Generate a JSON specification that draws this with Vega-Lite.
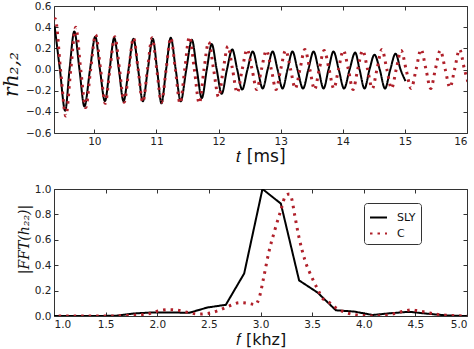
{
  "$schema": "https://vega.github.io/schema/vega-lite/v6.json",
  "background": "white",
  "padding": {"left": 0, "top": 0, "right": 0, "bottom": 0},
  "spacing": 56,
  "bounds": "flush",
  "resolve": {"scale": {"color": "independent", "strokeDash": "independent"}, "legend": {"color": "independent", "strokeDash": "independent"}},
  "datasets": {
    "wave": [
      {"t": 9.36, "v": 0.41, "s": "SLY"}, {"t": 9.445, "v": 0.0, "s": "SLY"}, {"t": 9.53, "v": -0.39, "s": "SLY"}, {"t": 9.6, "v": 0.0, "s": "SLY"},
      {"t": 9.677, "v": 0.36, "s": "SLY"}, {"t": 9.76, "v": 0.0, "s": "SLY"}, {"t": 9.84, "v": -0.35, "s": "SLY"}, {"t": 9.93, "v": 0.0, "s": "SLY"},
      {"t": 10.015, "v": 0.31, "s": "SLY"}, {"t": 10.09, "v": 0.0, "s": "SLY"}, {"t": 10.17, "v": -0.3, "s": "SLY"}, {"t": 10.245, "v": 0.0, "s": "SLY"},
      {"t": 10.32, "v": 0.3, "s": "SLY"}, {"t": 10.395, "v": 0.0, "s": "SLY"}, {"t": 10.47, "v": -0.3, "s": "SLY"}, {"t": 10.55, "v": 0.0, "s": "SLY"},
      {"t": 10.63, "v": 0.29, "s": "SLY"}, {"t": 10.705, "v": 0.0, "s": "SLY"}, {"t": 10.78, "v": -0.3, "s": "SLY"}, {"t": 10.86, "v": 0.0, "s": "SLY"},
      {"t": 10.94, "v": 0.29, "s": "SLY"}, {"t": 11.01, "v": 0.0, "s": "SLY"}, {"t": 11.08, "v": -0.32, "s": "SLY"}, {"t": 11.155, "v": 0.0, "s": "SLY"},
      {"t": 11.23, "v": 0.3, "s": "SLY"}, {"t": 11.31, "v": 0.0, "s": "SLY"}, {"t": 11.39, "v": -0.3, "s": "SLY"}, {"t": 11.48, "v": 0.0, "s": "SLY"},
      {"t": 11.57, "v": 0.28, "s": "SLY"}, {"t": 11.65, "v": 0.0, "s": "SLY"}, {"t": 11.73, "v": -0.27, "s": "SLY"}, {"t": 11.81, "v": 0.0, "s": "SLY"},
      {"t": 11.89, "v": 0.24, "s": "SLY"}, {"t": 11.97, "v": 0.0, "s": "SLY"}, {"t": 12.05, "v": -0.23, "s": "SLY"}, {"t": 12.135, "v": 0.0, "s": "SLY"},
      {"t": 12.22, "v": 0.19, "s": "SLY"}, {"t": 12.3, "v": 0.0, "s": "SLY"}, {"t": 12.38, "v": -0.19, "s": "SLY"}, {"t": 12.465, "v": 0.0, "s": "SLY"},
      {"t": 12.55, "v": 0.17, "s": "SLY"}, {"t": 12.63, "v": 0.0, "s": "SLY"}, {"t": 12.71, "v": -0.18, "s": "SLY"}, {"t": 12.79, "v": 0.0, "s": "SLY"},
      {"t": 12.87, "v": 0.17, "s": "SLY"}, {"t": 12.95, "v": 0.0, "s": "SLY"}, {"t": 13.03, "v": -0.18, "s": "SLY"}, {"t": 13.11, "v": 0.0, "s": "SLY"},
      {"t": 13.19, "v": 0.17, "s": "SLY"}, {"t": 13.27, "v": 0.0, "s": "SLY"}, {"t": 13.36, "v": -0.18, "s": "SLY"}, {"t": 13.445, "v": 0.0, "s": "SLY"},
      {"t": 13.53, "v": 0.17, "s": "SLY"}, {"t": 13.61, "v": 0.0, "s": "SLY"}, {"t": 13.69, "v": -0.18, "s": "SLY"}, {"t": 13.77, "v": 0.0, "s": "SLY"},
      {"t": 13.85, "v": 0.17, "s": "SLY"}, {"t": 13.935, "v": 0.0, "s": "SLY"}, {"t": 14.02, "v": -0.18, "s": "SLY"}, {"t": 14.11, "v": 0.0, "s": "SLY"},
      {"t": 14.2, "v": 0.16, "s": "SLY"}, {"t": 14.27, "v": 0.0, "s": "SLY"}, {"t": 14.35, "v": -0.18, "s": "SLY"}, {"t": 14.43, "v": 0.0, "s": "SLY"},
      {"t": 14.51, "v": 0.14, "s": "SLY"}, {"t": 14.595, "v": 0.0, "s": "SLY"}, {"t": 14.68, "v": -0.18, "s": "SLY"}, {"t": 14.765, "v": 0.0, "s": "SLY"},
      {"t": 14.85, "v": 0.15, "s": "SLY"}, {"t": 14.93, "v": 0.0, "s": "SLY"}, {"t": 15.01, "v": -0.11, "s": "SLY"},
      {"t": 9.35, "v": 0.47, "s": "C"}, {"t": 9.37, "v": 0.48, "s": "C"}, {"t": 9.455, "v": 0.0, "s": "C"}, {"t": 9.54, "v": -0.44, "s": "C"},
      {"t": 9.62, "v": 0.0, "s": "C"}, {"t": 9.7, "v": 0.4, "s": "C"}, {"t": 9.78, "v": 0.0, "s": "C"}, {"t": 9.86, "v": -0.36, "s": "C"},
      {"t": 9.94, "v": 0.0, "s": "C"}, {"t": 10.02, "v": 0.33, "s": "C"}, {"t": 10.1, "v": 0.0, "s": "C"}, {"t": 10.175, "v": -0.32, "s": "C"},
      {"t": 10.25, "v": 0.0, "s": "C"}, {"t": 10.33, "v": 0.31, "s": "C"}, {"t": 10.405, "v": 0.0, "s": "C"}, {"t": 10.48, "v": -0.31, "s": "C"},
      {"t": 10.555, "v": 0.0, "s": "C"}, {"t": 10.63, "v": 0.3, "s": "C"}, {"t": 10.705, "v": 0.0, "s": "C"}, {"t": 10.78, "v": -0.31, "s": "C"},
      {"t": 10.855, "v": 0.0, "s": "C"}, {"t": 10.93, "v": 0.3, "s": "C"}, {"t": 11.005, "v": 0.0, "s": "C"}, {"t": 11.08, "v": -0.31, "s": "C"},
      {"t": 11.155, "v": 0.0, "s": "C"}, {"t": 11.23, "v": 0.3, "s": "C"}, {"t": 11.305, "v": 0.0, "s": "C"}, {"t": 11.38, "v": -0.32, "s": "C"},
      {"t": 11.455, "v": 0.0, "s": "C"}, {"t": 11.53, "v": 0.31, "s": "C"}, {"t": 11.61, "v": 0.0, "s": "C"}, {"t": 11.69, "v": -0.32, "s": "C"},
      {"t": 11.765, "v": 0.0, "s": "C"}, {"t": 11.84, "v": 0.26, "s": "C"}, {"t": 11.92, "v": 0.0, "s": "C"}, {"t": 12.0, "v": -0.26, "s": "C"},
      {"t": 12.075, "v": 0.0, "s": "C"}, {"t": 12.15, "v": 0.22, "s": "C"}, {"t": 12.225, "v": 0.0, "s": "C"}, {"t": 12.3, "v": -0.22, "s": "C"},
      {"t": 12.38, "v": 0.0, "s": "C"}, {"t": 12.46, "v": 0.19, "s": "C"}, {"t": 12.54, "v": 0.0, "s": "C"}, {"t": 12.615, "v": -0.19, "s": "C"},
      {"t": 12.69, "v": 0.0, "s": "C"}, {"t": 12.77, "v": 0.18, "s": "C"}, {"t": 12.85, "v": 0.0, "s": "C"}, {"t": 12.925, "v": -0.19, "s": "C"},
      {"t": 13.0, "v": 0.0, "s": "C"}, {"t": 13.08, "v": 0.18, "s": "C"}, {"t": 13.16, "v": 0.0, "s": "C"}, {"t": 13.235, "v": -0.18, "s": "C"},
      {"t": 13.31, "v": 0.0, "s": "C"}, {"t": 13.39, "v": 0.19, "s": "C"}, {"t": 13.47, "v": 0.0, "s": "C"}, {"t": 13.545, "v": -0.19, "s": "C"},
      {"t": 13.62, "v": 0.0, "s": "C"}, {"t": 13.7, "v": 0.18, "s": "C"}, {"t": 13.78, "v": 0.0, "s": "C"}, {"t": 13.855, "v": -0.18, "s": "C"},
      {"t": 13.93, "v": 0.0, "s": "C"}, {"t": 14.01, "v": 0.18, "s": "C"}, {"t": 14.09, "v": 0.0, "s": "C"}, {"t": 14.165, "v": -0.19, "s": "C"},
      {"t": 14.24, "v": 0.0, "s": "C"}, {"t": 14.32, "v": 0.18, "s": "C"}, {"t": 14.4, "v": 0.0, "s": "C"}, {"t": 14.475, "v": -0.18, "s": "C"},
      {"t": 14.55, "v": 0.0, "s": "C"}, {"t": 14.63, "v": 0.19, "s": "C"}, {"t": 14.71, "v": 0.0, "s": "C"}, {"t": 14.785, "v": -0.18, "s": "C"},
      {"t": 14.86, "v": 0.0, "s": "C"}, {"t": 14.94, "v": 0.18, "s": "C"}, {"t": 15.02, "v": 0.0, "s": "C"}, {"t": 15.1, "v": -0.18, "s": "C"},
      {"t": 15.18, "v": 0.0, "s": "C"}, {"t": 15.26, "v": 0.19, "s": "C"}, {"t": 15.34, "v": 0.0, "s": "C"}, {"t": 15.415, "v": -0.18, "s": "C"},
      {"t": 15.49, "v": 0.0, "s": "C"}, {"t": 15.57, "v": 0.18, "s": "C"}, {"t": 15.65, "v": 0.0, "s": "C"}, {"t": 15.725, "v": -0.17, "s": "C"},
      {"t": 15.8, "v": 0.0, "s": "C"}, {"t": 15.88, "v": 0.19, "s": "C"}, {"t": 15.96, "v": 0.0, "s": "C"}, {"t": 16.04, "v": -0.17, "s": "C"}
    ],
    "fft": [
      {"f": 0.888, "a": 0.0, "s": "SLY"}, {"f": 1.066, "a": 0.0, "s": "SLY"}, {"f": 1.243, "a": 0.0, "s": "SLY"}, {"f": 1.421, "a": 0.0, "s": "SLY"},
      {"f": 1.598, "a": 0.002, "s": "SLY"}, {"f": 1.776, "a": 0.02, "s": "SLY"}, {"f": 1.954, "a": 0.028, "s": "SLY"}, {"f": 2.131, "a": 0.028, "s": "SLY"},
      {"f": 2.309, "a": 0.025, "s": "SLY"}, {"f": 2.486, "a": 0.067, "s": "SLY"}, {"f": 2.664, "a": 0.088, "s": "SLY"}, {"f": 2.842, "a": 0.335, "s": "SLY"},
      {"f": 3.019, "a": 1.0, "s": "SLY"}, {"f": 3.197, "a": 0.885, "s": "SLY"}, {"f": 3.374, "a": 0.28, "s": "SLY"}, {"f": 3.552, "a": 0.185, "s": "SLY"},
      {"f": 3.73, "a": 0.045, "s": "SLY"}, {"f": 3.907, "a": 0.035, "s": "SLY"}, {"f": 4.085, "a": 0.008, "s": "SLY"}, {"f": 4.262, "a": 0.022, "s": "SLY"},
      {"f": 4.44, "a": 0.033, "s": "SLY"}, {"f": 4.618, "a": 0.018, "s": "SLY"}, {"f": 4.795, "a": 0.005, "s": "SLY"}, {"f": 4.973, "a": 0.0, "s": "SLY"},
      {"f": 5.15, "a": 0.0, "s": "SLY"},
      {"f": 0.9, "a": 0.0, "s": "C"}, {"f": 1.5, "a": 0.0, "s": "C"}, {"f": 1.7, "a": 0.003, "s": "C"}, {"f": 1.8, "a": 0.008, "s": "C"},
      {"f": 1.9, "a": 0.015, "s": "C"}, {"f": 2.0, "a": 0.038, "s": "C"}, {"f": 2.1, "a": 0.05, "s": "C"}, {"f": 2.2, "a": 0.045, "s": "C"},
      {"f": 2.3, "a": 0.028, "s": "C"}, {"f": 2.4, "a": 0.015, "s": "C"}, {"f": 2.5, "a": 0.022, "s": "C"}, {"f": 2.6, "a": 0.045, "s": "C"},
      {"f": 2.7, "a": 0.08, "s": "C"}, {"f": 2.8, "a": 0.105, "s": "C"}, {"f": 2.88, "a": 0.1, "s": "C"}, {"f": 2.95, "a": 0.09, "s": "C"},
      {"f": 2.99, "a": 0.15, "s": "C"}, {"f": 3.03, "a": 0.3, "s": "C"}, {"f": 3.08, "a": 0.5, "s": "C"}, {"f": 3.14, "a": 0.68, "s": "C"},
      {"f": 3.2, "a": 0.84, "s": "C"}, {"f": 3.245, "a": 0.95, "s": "C"}, {"f": 3.28, "a": 0.96, "s": "C"}, {"f": 3.3, "a": 0.93, "s": "C"},
      {"f": 3.33, "a": 0.8, "s": "C"}, {"f": 3.37, "a": 0.63, "s": "C"}, {"f": 3.43, "a": 0.44, "s": "C"}, {"f": 3.5, "a": 0.3, "s": "C"},
      {"f": 3.56, "a": 0.2, "s": "C"}, {"f": 3.6, "a": 0.14, "s": "C"}, {"f": 3.66, "a": 0.11, "s": "C"}, {"f": 3.72, "a": 0.07, "s": "C"},
      {"f": 3.8, "a": 0.035, "s": "C"}, {"f": 3.9, "a": 0.012, "s": "C"}, {"f": 4.0, "a": 0.003, "s": "C"}, {"f": 4.1, "a": 0.0, "s": "C"},
      {"f": 4.2, "a": 0.005, "s": "C"}, {"f": 4.3, "a": 0.02, "s": "C"}, {"f": 4.38, "a": 0.037, "s": "C"}, {"f": 4.46, "a": 0.048, "s": "C"},
      {"f": 4.53, "a": 0.04, "s": "C"}, {"f": 4.6, "a": 0.03, "s": "C"}, {"f": 4.7, "a": 0.014, "s": "C"}, {"f": 4.8, "a": 0.006, "s": "C"},
      {"f": 4.9, "a": 0.002, "s": "C"}, {"f": 5.0, "a": 0.0, "s": "C"}
    ]
  },
  "vconcat": [
    {
      "width": 413,
      "height": 127,
      "data": {"name": "wave"},
      "layer": [
        {
          "transform": [{"filter": "datum.s === 'SLY'"}],
          "mark": {"type": "line", "interpolate": "monotone", "clip": true, "strokeWidth": 2},
          "encoding": {
            "x": {"field": "t", "type": "quantitative", "scale": {"domain": [9.35, 16], "nice": false, "zero": false},
                  "axis": {"orient": "bottom", "values": [10, 11, 12, 13, 14, 15, 16], "format": "d", "title": "𝑡 [ms]", "titleFontSize": 17, "titlePadding": 2}},
            "y": {"field": "v", "type": "quantitative", "scale": {"domain": [-0.6, 0.6], "nice": false},
                  "axis": {"orient": "left", "values": [-0.6, -0.4, -0.2, 0, 0.2, 0.4, 0.6], "format": ".1f", "title": "rh₂,₂", "titleFont": "DejaVu Serif", "titleFontStyle": "italic", "titleFontSize": 20, "titleX": -33, "titleY": 68}},
            "color": {"field": "s", "type": "nominal", "scale": {"domain": ["SLY", "C"], "range": ["#000000", "#b0202a"]}, "legend": null},
            "strokeDash": {"field": "s", "type": "nominal", "scale": {"domain": ["SLY", "C"], "range": [[1, 0], [2.5, 5]]}, "legend": null}
          }
        },
        {
          "transform": [{"filter": "datum.s === 'C'"}],
          "mark": {"type": "line", "interpolate": "monotone", "clip": true, "strokeWidth": 3},
          "encoding": {
            "x": {"field": "t", "type": "quantitative", "axis": null},
            "y": {"field": "v", "type": "quantitative", "axis": null},
            "color": {"field": "s", "type": "nominal", "legend": null},
            "strokeDash": {"field": "s", "type": "nominal", "legend": null}
          }
        },
        {
          "mark": {"type": "line", "opacity": 0},
          "encoding": {
            "x": {"field": "t", "type": "quantitative", "axis": {"orient": "top", "values": [10, 11, 12, 13, 14, 15, 16], "labels": false, "title": null}},
            "y": {"field": "v", "type": "quantitative", "axis": {"orient": "right", "values": [-0.6, -0.4, -0.2, 0, 0.2, 0.4, 0.6], "labels": false, "title": null}}
          }
        }
      ],
      "resolve": {"axis": {"x": "independent", "y": "independent"}}
    },
    {
      "width": 413,
      "height": 127,
      "data": {"name": "fft"},
      "layer": [
        {
          "transform": [{"filter": "datum.s === 'SLY'"}],
          "mark": {"type": "line", "clip": true, "strokeWidth": 2},
          "encoding": {
            "x": {"field": "f", "type": "quantitative", "scale": {"domain": [1, 5], "nice": false, "zero": false},
                  "axis": {"orient": "bottom", "values": [1, 1.5, 2, 2.5, 3, 3.5, 4, 4.5, 5], "format": ".1f", "title": "𝑓 [khz]", "titleFontSize": 16, "titlePadding": 2}},
            "y": {"field": "a", "type": "quantitative", "scale": {"domain": [0, 1], "nice": false},
                  "axis": {"orient": "left", "values": [0, 0.2, 0.4, 0.6, 0.8, 1.0], "format": ".1f", "title": "|FFT(h₂₂)|", "titleFont": "DejaVu Serif", "titleFontStyle": "italic", "titleFontSize": 14, "titleX": -23, "titleY": 50}},
            "color": {"field": "s", "type": "nominal", "scale": {"domain": ["SLY", "C"], "range": ["#000000", "#b0202a"]},
                      "legend": {"title": null, "orient": "none", "legendX": 310, "legendY": 14}},
            "strokeDash": {"field": "s", "type": "nominal", "scale": {"domain": ["SLY", "C"], "range": [[1, 0], [2.5, 5]]},
                      "legend": {"title": null, "orient": "none", "legendX": 310, "legendY": 14}}
          }
        },
        {
          "transform": [{"filter": "datum.s === 'C'"}],
          "mark": {"type": "line", "interpolate": "monotone", "clip": true, "strokeWidth": 3},
          "encoding": {
            "x": {"field": "f", "type": "quantitative", "axis": null},
            "y": {"field": "a", "type": "quantitative", "axis": null},
            "color": {"field": "s", "type": "nominal", "legend": {"title": null, "orient": "none", "legendX": 310, "legendY": 14}},
            "strokeDash": {"field": "s", "type": "nominal", "legend": {"title": null, "orient": "none", "legendX": 310, "legendY": 14}}
          }
        },
        {
          "mark": {"type": "line", "opacity": 0},
          "encoding": {
            "x": {"field": "f", "type": "quantitative", "axis": {"orient": "top", "values": [1, 1.5, 2, 2.5, 3, 3.5, 4, 4.5, 5], "labels": false, "title": null}},
            "y": {"field": "a", "type": "quantitative", "axis": {"orient": "right", "values": [0, 0.2, 0.4, 0.6, 0.8, 1.0], "labels": false, "title": null}}
          }
        }
      ],
      "resolve": {"axis": {"x": "independent", "y": "independent"}}
    }
  ],
  "config": {
    "view": {"stroke": "#333333", "strokeWidth": 1},
    "axis": {
      "domain": false, "grid": false, "tickSize": -4, "tickColor": "#333333", "tickWidth": 1,
      "labelFont": "DejaVu Sans", "labelFontSize": 10.5, "labelColor": "#222222", "labelPadding": 7,
      "titleFont": "DejaVu Sans", "titleFontWeight": "normal", "titleColor": "#111111", "titlePadding": 4
    },
    "legend": {
      "symbolType": "stroke", "symbolSize": 289, "symbolStrokeWidth": 2,
      "labelFont": "DejaVu Sans", "labelFontSize": 11, "labelColor": "#111111", "labelOffset": 9, "strokeColor": "#333333",
      "fillColor": "white", "padding": 5, "cornerRadius": 3, "rowPadding": 1
    }
  }
}
